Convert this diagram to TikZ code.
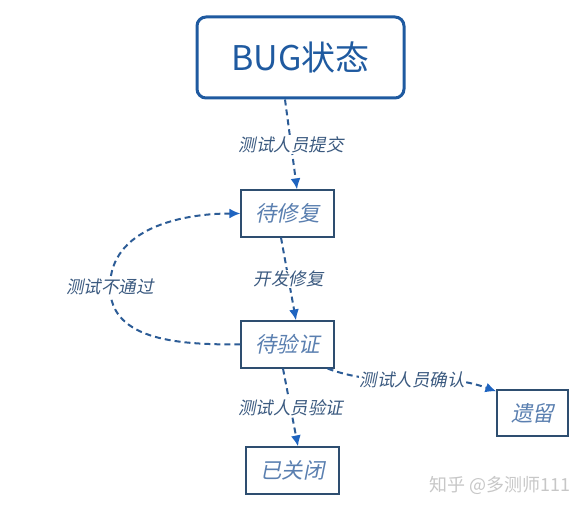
\documentclass[tikz,border=0pt]{standalone}
\usepackage{fontspec}
\usepackage{tikz}
\usetikzlibrary{arrows.meta}
\newfontfamily\cjk{Noto Sans CJK SC}
\newfontfamily\cjkit[FakeSlant=0.2]{Noto Sans CJK SC}
\definecolor{titleblue}{HTML}{1F5AA0}
\definecolor{boxline}{HTML}{2E4E70}
\definecolor{boxtext}{HTML}{5A7FB0}
\definecolor{lbltext}{HTML}{3B5A80}
\definecolor{flowline}{HTML}{2C5C96}
\definecolor{tipblue}{HTML}{1F64C0}
\tikzset{
  titlebox/.style={draw=titleblue, line width=3pt, rounded corners=9pt,
    minimum width=207pt, minimum height=81pt, inner sep=0pt,
    text=titleblue, font=\cjk\fontsize{34}{38}\selectfont},
  statebox/.style={draw=boxline, line width=1.2pt, fill=white,
    minimum width=93pt, minimum height=47pt, inner sep=0pt,
    text=boxtext, font=\cjkit\fontsize{21.5}{24}\selectfont},
  flow/.style={draw=flowline, line width=2pt, dash pattern=on 6pt off 4pt,
    -{Latex[length=11pt,width=10pt,color=tipblue]}},
  lbl/.style={fill=white, inner sep=1pt, text=lbltext,
    font=\cjkit\fontsize{17.5}{20}\selectfont}
}
\begin{document}
\begin{tikzpicture}[x=1pt,y=1pt]
      \useasboundingbox (0,0) rectangle (585,511);
      % Title
      \node[titlebox] (bug) at (300.5,453.5) {BUG状态};
      % States
      \node[statebox] (fix) at (287.5,297.5) {待修复};
      \node[statebox] (verify) at (287.5,166.5) {待验证};
      \node[statebox] (closed) at (292.5,40.5) {已关闭};
      \node[statebox, minimum width=71pt, minimum height=46pt] (legacy) at (532.5,98) {遗留};
      % - Flow
      \draw[flow] ([xshift=-15.5pt]bug.south) -- node[lbl, midway] {测试人员提交} ([xshift=9.5pt]fix.north);
      \draw[flow] ([xshift=-6.5pt]fix.south) -- node[lbl, midway] {开发修复} ([xshift=8.5pt]verify.north);
      \draw[flow] ([xshift=-4.5pt]verify.south) -- node[lbl, midway] {测试人员验证} ([xshift=5.5pt]closed.north);
      \draw[flow] ([xshift=-7pt]verify.south east) to[out=-20,in=160] node[lbl, midway] {测试人员确认} ([yshift=-2pt]legacy.north west);
      % - Loop back
      \coordinate (back) at (110,224);
      \draw[flow] (verify.west) to[out=180,in=-90] (back) node[lbl] {测试不通过} to[out=90,in=180] (fix.west);
      % Watermark
      \node[text=black!22, font=\cjk\fontsize{18}{20}\selectfont] (mark) at (500,26) {知乎 @多测师111};
\end{tikzpicture}
\end{document}
